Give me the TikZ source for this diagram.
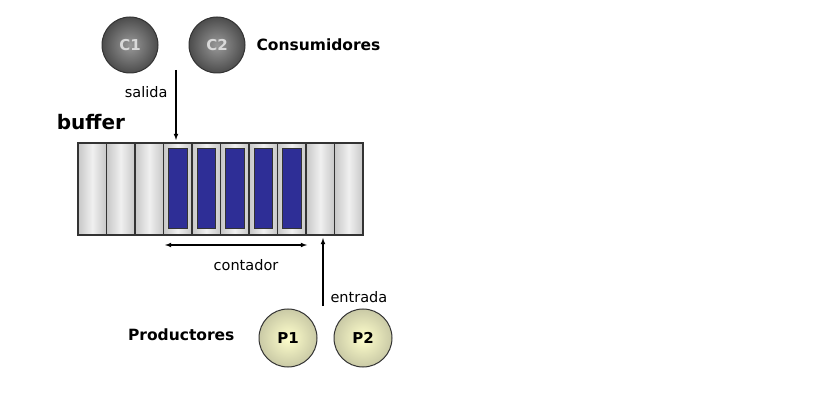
\documentclass[tikz,border=0pt]{standalone}
\usepackage{fontspec}
\setmainfont{DejaVu Sans}
\begin{document}
\begin{tikzpicture}[x=1pt,y=-1pt,
  cell/.style={left color=black!22,right color=black!22,middle color=black!6,shading angle=90},
  item/.style={draw=black!80,fill={rgb,255:red,46;green,46;blue,150},line width=1pt},
  cons/.style={circle,draw=black!80,line width=1pt,minimum size=56pt,inner color=black!40,outer color=black!70,text=white!85!black,font=\bfseries\fontsize{15}{18}\selectfont},
  prod/.style={circle,draw=black!80,line width=1pt,minimum size=58pt,inner color=yellow!20,outer color=yellow!40!black!35,text=black,font=\bfseries\fontsize{15}{18}\selectfont},
  arr/.style={-latex,line width=1.1pt},
  lbl/.style={font=\fontsize{14.5}{17}\selectfont},
  title/.style={font=\bfseries\fontsize{15.5}{18}\selectfont}]
\useasboundingbox (0,0) rectangle (831,401);
\foreach \i in {0,...,9}{
  \pgfmathsetmacro\xa{78+28.5*\i}
  \fill[cell] (\xa,143) rectangle ++(28.5,92);
  \draw[black!80,line width=1.2pt] (\xa,143) rectangle ++(28.5,92);
}
\foreach \i in {3,...,7}{
  \pgfmathsetmacro\xa{78+28.5*\i+5}
  \draw[item] (\xa,149) rectangle ++(18.5,80);
}
\coordinate (bufS) at (176,140);
\coordinate (bufE) at (323,238);
\coordinate (cA) at (165,245);
\coordinate (cB) at (307,245);
\node[cons] (c1) at (130,45) {C1};
\node[cons] (c2) at (217,45) {C2};
\node[anchor=west,title] (cons) at (253,45) {Consumidores};
\node[prod] (p1) at (288,338) {P1};
\node[prod] (p2) at (363,338) {P2};
\node[anchor=east,title] (prods) at (238,335) {Productores};
\node[font=\bfseries\fontsize{20}{24}\selectfont] (buf) at (91,122) {buffer};
\coordinate (sTop) at (176,70);
\draw[arr] (sTop) -- (bufS);
\node[lbl,anchor=east] (sal) at (171,92) {salida};
\draw[latex-latex,line width=1.1pt] (cA) -- (cB);
\node[lbl] (cont) at (246,265) {contador};
\coordinate (eBot) at (323,306);
\draw[arr] (eBot) -- (bufE);
\node[lbl,anchor=west] (ent) at (327,297) {entrada};
\end{tikzpicture}
\end{document}
